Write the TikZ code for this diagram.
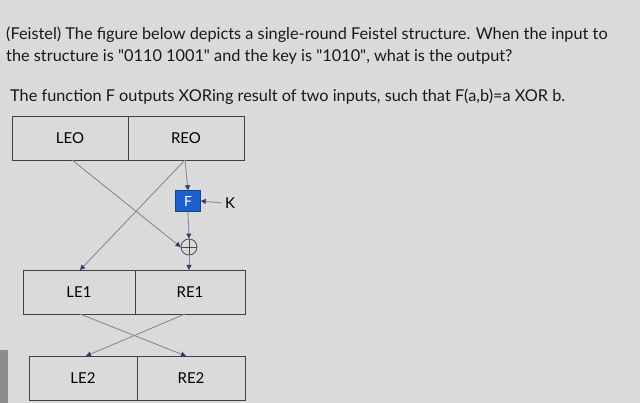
\documentclass[tikz,border=0pt]{standalone}
\usepackage{fontspec}
\setmainfont{Lato}
\usetikzlibrary{arrows.meta}
\definecolor{bg}{HTML}{DADADA}
\definecolor{edge}{HTML}{8A8A90}
\definecolor{tip}{HTML}{2E3F6E}
\definecolor{fblue}{HTML}{1F5FCC}
\begin{document}
\begin{tikzpicture}[x=1pt,y=-1pt,
  half/.style={draw=black!75,line width=0.9pt,fill=bg,minimum height=44pt,inner sep=0pt,font=\fontsize{15}{17}\selectfont},
  conn/.style={draw=edge,line width=0.9pt,-{Triangle[length=5pt,width=5pt,fill=tip,color=tip]}},
  fbox/.style={draw=fblue!70!black,fill=fblue,text=white,minimum width=25pt,minimum height=21pt,inner sep=0pt,font=\fontsize{14}{16}\selectfont},
  xorc/.style={circle,draw=black!70,line width=0.8pt,minimum size=16pt,inner sep=0pt},
  para/.style={anchor=west,inner sep=0pt,text=black!90,font=\fontsize{16.3}{19}\selectfont}]
\useasboundingbox[fill=bg] (0,0) rectangle (640,403);
\fill[black!45] (0,350) rectangle (8,403);
\node[para] (t1) at (6,35) {(Feistel) The figure below depicts a single-round Feistel structure. When the input to};
\node[para] (t2) at (6,57) {the structure is \textquotedbl0110 1001\textquotedbl\ and the key is \textquotedbl1010\textquotedbl, what is the output?};
\node[para] (t3) at (10,97) {The function F outputs XORing result of two inputs, such that F(a,b)=a XOR b.};
% row 0
\node[half,minimum width=116pt] (le0) at (70,138) {LEO};
\node[half,minimum width=116pt] (re0) at (186,138) {REO};
% row 1
\node[half,minimum width=112pt] (le1) at (79,292) {LE1};
\node[half,minimum width=110pt] (re1) at (190,292) {RE1};
% row 2
\node[half,minimum width=108pt] (le2) at (83,378) {LE2};
\node[half,minimum width=108pt] (re2) at (191,378) {RE2};
% F and XOR
\node[fbox] (f) at (188,201) {F};
\node[font=\fontsize{15}{17}\selectfont] (k) at (230,203) {K};
\node[xorc] (x) at (189,247) {};
\draw[black!70,line width=0.8pt] (x.north) -- (x.south) (x.west) -- (x.east);
\coordinate (le0b) at (72,160);
\coordinate (re0b) at (185,160);
\draw[conn] (re0b) -- (f.north);
\draw[conn] (k.west) -- (f.east);
\draw[conn] (f.south) -- (x.north);
\draw[conn] (le0b) -- (x.west);
\draw[conn] (re0b) -- (80,270);
\draw[conn] (x.south) -- (189,270);
\draw[conn] (80,314) -- (186,356);
\draw[conn] (185,314) -- (86,356);
\end{tikzpicture}
\end{document}
